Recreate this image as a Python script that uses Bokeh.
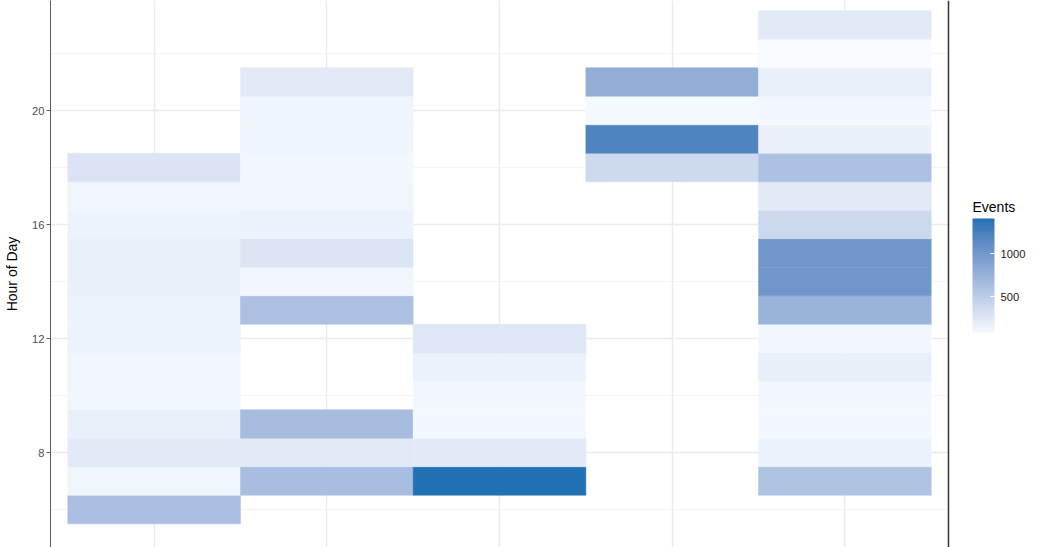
import numpy as np
from bokeh.plotting import figure
from bokeh.models import (ColumnDataSource, LinearColorMapper, ColorBar, FixedTicker,
                          Range1d, Label, Span)
from bokeh.embed import file_html
from bokeh.resources import INLINE

# ---------------- data ----------------
categories = ["A", "B", "C", "D", "E"]

hours_a = [6, 7, 8, 9, 10, 11, 12, 13, 14, 15, 16, 17, 18]
events_a = [620, 115, 225, 170, 115, 115, 145, 142, 165, 170, 145, 110, 275]

hours_b = [7, 8, 9, 13, 14, 15, 16, 17, 18, 19, 20, 21]
events_b = [640, 235, 650, 610, 112, 270, 150, 115, 105, 125, 128, 225]

hours_c = [7, 8, 9, 10, 11, 12]
events_c = [1413, 228, 97, 95, 150, 250]

hours_d = [18, 19, 20, 21]
events_d = [380, 1210, 92, 790]

hours_e = [7, 8, 9, 10, 11, 12, 13, 14, 15, 16, 17, 18, 19, 20, 21, 22, 23]
events_e = [590, 150, 95, 97, 175, 112, 740, 1020, 1020, 390, 225, 600, 160, 98, 170, 67, 222]

y_ticks = [8, 12, 16, 20]
y_minor = [6, 10, 14, 18, 22]
legend_ticks = [500, 1000]
legend_title = "Events"
low_color = "#F7FBFF"
high_color = "#2171B5"

# ---------------- table ----------------
cat_col, xpos_col, hour_col, ev_col = [], [], [], []
for i, (c, hs, es) in enumerate(zip(categories,
                                    [hours_a, hours_b, hours_c, hours_d, hours_e],
                                    [events_a, events_b, events_c, events_d, events_e])):
    cat_col += [c] * len(hs)
    xpos_col += [i + 1] * len(hs)
    hour_col += hs
    ev_col += es
src = ColumnDataSource(dict(cat=cat_col, x=xpos_col, hour=hour_col, events=ev_col))

# ---------------- Lab gradient palette ----------------
def hex_to_rgb(h):
    return np.array([int(h[i:i + 2], 16) for i in (1, 3, 5)]) / 255.0

M = np.array([[0.4124, 0.3576, 0.1805], [0.2126, 0.7152, 0.0722], [0.0193, 0.1192, 0.9505]])
Minv = np.linalg.inv(M)
WHITE = np.array([0.95047, 1.0, 1.08883])
d = 6 / 29

def f(t):
    return np.where(t > d ** 3, np.cbrt(t), t / (3 * d * d) + 4 / 29)

def finv(t):
    return np.where(t > d, t ** 3, 3 * d * d * (t - 4 / 29))

def rgb_to_lab(c):
    lin = np.where(c <= 0.04045, c / 12.92, ((c + 0.055) / 1.055) ** 2.4)
    xyz = M @ lin / WHITE
    fx, fy, fz = f(xyz)
    return np.array([116 * fy - 16, 500 * (fx - fy), 200 * (fy - fz)])

def lab_to_hex(lab):
    L, a, b = lab
    fy = (L + 16) / 116
    xyz = np.array([finv(fy + a / 500), finv(fy), finv(fy - b / 200)]) * WHITE
    lin = np.clip(Minv @ xyz, 0, 1)
    c = np.where(lin <= 0.0031308, 12.92 * lin, 1.055 * lin ** (1 / 2.4) - 0.055)
    c = np.clip(np.round(c * 255), 0, 255).astype(int)
    return "#%02x%02x%02x" % tuple(c)

lo, hi = rgb_to_lab(hex_to_rgb(low_color)), rgb_to_lab(hex_to_rgb(high_color))
palette = [lab_to_hex(lo + (hi - lo) * t) for t in np.linspace(0, 1, 256)]
mapper = LinearColorMapper(palette=palette, low=min(ev_col), high=max(ev_col))

# ---------------- figure ----------------
FONT = "Liberation Sans"
n = len(categories)
panel_end = n + 0.6            # right edge of the data panel (ggplot expansion)
px_per_unit = (948 - 50) / (n + 0.2)
x_end = 0.4 + (1043 - 50) / px_per_unit

p = figure(width=1043, height=547, output_backend="svg", toolbar_location=None,
           x_range=Range1d(0.4, x_end), y_range=Range1d(4.667, 23.860),
           min_border=0, min_border_left=50)
p.outline_line_color = None
p.background_fill_color = "white"
p.border_fill_color = "white"

p.rect(x="x", y="hour", width=1, height=1, source=src,
       fill_color={"field": "events", "transform": mapper},
       line_color={"field": "events", "transform": mapper}, line_width=0.5)

# white mask for legend area (hides grid lines beyond the panel)
p.quad(left=panel_end, right=x_end + 1, bottom=0, top=30,
       fill_color="white", line_color=None)

p.xaxis.visible = False
p.xaxis.ticker = FixedTicker(ticks=list(range(1, n + 1)))
p.xgrid.ticker = FixedTicker(ticks=list(range(1, n + 1)))
p.xgrid.grid_line_color = "#EBEBEB"
p.xgrid.grid_line_width = 1.4

yax = p.yaxis[0]
yax.ticker = FixedTicker(ticks=y_ticks, minor_ticks=y_minor)
yax.axis_label = "Hour of Day"
yax.axis_label_text_font = FONT
yax.axis_label_text_font_size = "14px"
yax.axis_label_text_font_style = "normal"
yax.axis_label_text_color = "black"
yax.axis_label_standoff = 9
yax.major_label_text_font = FONT
yax.major_label_text_font_size = "11.2px"
yax.major_label_text_color = "#4D4D4D"
yax.major_label_standoff = 2
yax.axis_line_color = "#5A5A5A"
yax.major_tick_line_color = "#5A5A5A"
yax.major_tick_out = 4
yax.major_tick_in = 0
yax.minor_tick_line_color = None

p.ygrid.grid_line_color = "#EBEBEB"
p.ygrid.grid_line_width = 1.4
p.ygrid.minor_grid_line_color = "#F2F2F2"
p.ygrid.minor_grid_line_width = 0.8

p.add_layout(Span(location=panel_end, dimension="height",
                  line_color="#333333", line_width=1.5))

cb = ColorBar(color_mapper=mapper, ticker=FixedTicker(ticks=legend_ticks),
              orientation="vertical", width=22, height=115,
              major_label_text_font=FONT, major_label_text_font_size="11.2px",
              major_label_text_color="#1A1A1A",
              major_tick_line_color="white", major_tick_in=4, major_tick_out=0,
              minor_tick_line_color=None,
              label_standoff=6, padding=0, margin=0,
              bar_line_color=None, border_line_color=None,
              background_fill_color=None, location=(922, 214))
p.add_layout(cb, "center")

title_lbl = Label(x=0.4 + 922 / px_per_unit, y=16.6, x_units="data", y_units="data",
                  text=legend_title, text_font=FONT, text_font_size="14px",
                  text_color="black", text_baseline="middle", text_align="left")
p.add_layout(title_lbl)

open("out.html", "w").write(file_html(p, INLINE))
